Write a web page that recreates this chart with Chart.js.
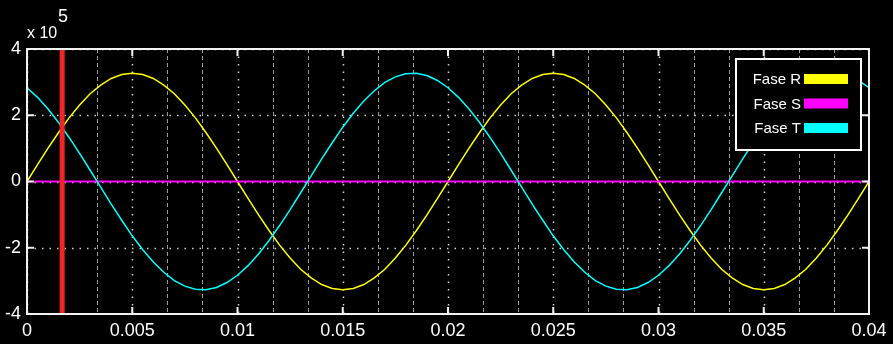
<!DOCTYPE html>
<html>
<head>
<meta charset="utf-8">
<script src="https://cdn.jsdelivr.net/npm/chart.js@4"></script>
<style>
  body { margin: 0; background: #000; }
</style>
</head>
<body>
<canvas id="phaseChart" width="893" height="344"></canvas>
<script>
// sample times (s), every 0.0005 s
const timeSteps = [
    0, 0.0005, 0.001, 0.0015, 0.002, 0.0025, 0.003, 0.0035, 0.004, 0.0045,
    0.005, 0.0055, 0.006, 0.0065, 0.007, 0.0075, 0.008, 0.0085, 0.009, 0.0095,
    0.01, 0.0105, 0.011, 0.0115, 0.012, 0.0125, 0.013, 0.0135, 0.014, 0.0145,
    0.015, 0.0155, 0.016, 0.0165, 0.017, 0.0175, 0.018, 0.0185, 0.019, 0.0195,
    0.02, 0.0205, 0.021, 0.0215, 0.022, 0.0225, 0.023, 0.0235, 0.024, 0.0245,
    0.025, 0.0255, 0.026, 0.0265, 0.027, 0.0275, 0.028, 0.0285, 0.029, 0.0295,
    0.03, 0.0305, 0.031, 0.0315, 0.032, 0.0325, 0.033, 0.0335, 0.034, 0.0345,
    0.035, 0.0355, 0.036, 0.0365, 0.037, 0.0375, 0.038, 0.0385, 0.039, 0.0395,
    0.04
];

// voltages in units of 10^5
const faseR = [
    0, 0.51, 1.01, 1.48, 1.92, 2.31, 2.65, 2.91, 3.11, 3.23,
    3.27, 3.23, 3.11, 2.91, 2.65, 2.31, 1.92, 1.48, 1.01, 0.51,
    0, -0.51, -1.01, -1.48, -1.92, -2.31, -2.65, -2.91, -3.11, -3.23,
    -3.27, -3.23, -3.11, -2.91, -2.65, -2.31, -1.92, -1.48, -1.01, -0.51,
    0, 0.51, 1.01, 1.48, 1.92, 2.31, 2.65, 2.91, 3.11, 3.23,
    3.27, 3.23, 3.11, 2.91, 2.65, 2.31, 1.92, 1.48, 1.01, 0.51,
    0, -0.51, -1.01, -1.48, -1.92, -2.31, -2.65, -2.91, -3.11, -3.23,
    -3.27, -3.23, -3.11, -2.91, -2.65, -2.31, -1.92, -1.48, -1.01, -0.51,
    0
];

const faseT = [
    2.83, 2.54, 2.19, 1.78, 1.33, 0.85, 0.34, -0.17, -0.68, -1.17,
    -1.64, -2.06, -2.43, -2.74, -2.99, -3.16, -3.25, -3.27, -3.20, -3.05,
    -2.83, -2.54, -2.19, -1.78, -1.33, -0.85, -0.34, 0.17, 0.68, 1.17,
    1.64, 2.06, 2.43, 2.74, 2.99, 3.16, 3.25, 3.27, 3.20, 3.05,
    2.83, 2.54, 2.19, 1.78, 1.33, 0.85, 0.34, -0.17, -0.68, -1.17,
    -1.64, -2.06, -2.43, -2.74, -2.99, -3.16, -3.25, -3.27, -3.20, -3.05,
    -2.83, -2.54, -2.19, -1.78, -1.33, -0.85, -0.34, 0.17, 0.68, 1.17,
    1.64, 2.06, 2.43, 2.74, 2.99, 3.16, 3.25, 3.27, 3.20, 3.05,
    2.83
];

const faseSTimes = [0, 0.04];
const faseS = [0, 0];

// red cursor line
const cursorTimes = [0.00167, 0.00167];
const cursorValues = [-4, 4];

const xTicks = [0, 0.005, 0.01, 0.015, 0.02, 0.025, 0.03, 0.035, 0.04];
const xTickLabels = ["0", "0.005", "0.01", "0.015", "0.02", "0.025", "0.03", "0.035", "0.04"];
const yTicks = [-4, -2, 0, 2, 4];
const yTickLabels = ["-4", "-2", "0", "2", "4"];

const toPoints = (xs, ys) => ys.map((v, i) => ({ x: xs[i], y: v }));

const FONT = '"Liberation Sans", Arial, sans-serif';

function hline(ctx, x1, y1, x2, y2) {
    ctx.beginPath();
    ctx.moveTo(x1, y1);
    ctx.lineTo(x2, y2);
    ctx.stroke();
}

const matlabAxes = {
    id: "matlabAxes",
    beforeDatasetsDraw(chart) {
        const { ctx, chartArea: a, scales: { x, y } } = chart;
        ctx.save();
        ctx.beginPath();
        ctx.rect(a.left, a.top, a.right - a.left, a.bottom - a.top);
        ctx.clip();

        // dashed lines every 1/600 s (30 degrees), skipping the major ticks
        ctx.strokeStyle = "#9c9c9c";
        ctx.lineWidth = 1;
        ctx.setLineDash([4, 3]);
        for (let i = 1; i < 24; i++) {
            if (i % 3 === 0) continue;
            const px = Math.round(x.getPixelForValue(i / 600)) + 0.5;
            hline(ctx, px, a.top, px, a.bottom);
        }

        // dotted major grid
        ctx.strokeStyle = "#d4d4d4";
        ctx.lineWidth = 1.5;
        ctx.setLineDash([1.5, 6]);
        xTicks.forEach(v => {
            const px = Math.round(x.getPixelForValue(v)) + 0.5;
            hline(ctx, px, a.top, px, a.bottom);
        });
        yTicks.forEach(v => {
            const py = Math.round(y.getPixelForValue(v)) + 0.5;
            hline(ctx, a.left, py, a.right, py);
        });
        ctx.restore();
    },
    afterDraw(chart) {
        const { ctx, chartArea: a, scales: { x, y } } = chart;
        ctx.save();

        // axes box + inward ticks
        ctx.strokeStyle = "#f2f2f2";
        ctx.lineWidth = 2;
        ctx.setLineDash([]);
        ctx.strokeRect(a.left, a.top, a.right - a.left, a.bottom - a.top);
        const tl = 7;
        xTicks.forEach(v => {
            const px = x.getPixelForValue(v);
            hline(ctx, px, a.bottom, px, a.bottom - tl);
            hline(ctx, px, a.top, px, a.top + tl);
        });
        yTicks.forEach(v => {
            const py = y.getPixelForValue(v);
            hline(ctx, a.left, py, a.left + tl, py);
            hline(ctx, a.right, py, a.right - tl, py);
        });

        // exponent label
        ctx.fillStyle = "#ffffff";
        ctx.textBaseline = "alphabetic";
        ctx.textAlign = "left";
        ctx.font = "16px " + FONT;
        ctx.fillText("x 10", 27, 38);
        ctx.font = "18px " + FONT;
        ctx.fillText("5", 58, 22);

        // legend
        const lx = 736, ly = 59, lw = 125, lh = 91;
        ctx.fillStyle = "#000000";
        ctx.fillRect(lx, ly, lw, lh);
        ctx.strokeStyle = "#ffffff";
        ctx.lineWidth = 2;
        ctx.strokeRect(lx, ly, lw, lh);
        ctx.font = "15px " + FONT;
        ctx.textAlign = "right";
        ctx.textBaseline = "middle";
        const items = chart.data.datasets.filter(d => d.label);
        items.forEach((d, i) => {
            const cy = ly + 20 + i * 24.5;
            ctx.fillStyle = "#ffffff";
            ctx.fillText(d.label, 801, cy + 1);
            ctx.fillStyle = d.borderColor;
            ctx.fillRect(804, cy - 5, 44, 10);
        });
        ctx.restore();
    }
};

new Chart(document.getElementById("phaseChart"), {
    type: "line",
    data: {
        datasets: [
            {
                data: toPoints(cursorTimes, cursorValues),
                borderColor: "#f02626",
                borderWidth: 5,
                pointRadius: 0,
                order: 0
            },
            {
                label: "Fase R",
                data: toPoints(timeSteps, faseR),
                borderColor: "#ffff00",
                borderWidth: 1.5,
                pointRadius: 0,
                order: 3
            },
            {
                label: "Fase S",
                data: toPoints(faseSTimes, faseS),
                borderColor: "#ff00ff",
                borderWidth: 2,
                pointRadius: 0,
                order: 2
            },
            {
                label: "Fase T",
                data: toPoints(timeSteps, faseT),
                borderColor: "#00ffff",
                borderWidth: 1.5,
                pointRadius: 0,
                order: 1
            }
        ]
    },
    options: {
        responsive: false,
        animation: false,
        layout: { padding: { left: 0, top: 49, right: 24, bottom: 0 } },
        plugins: {
            legend: { display: false },
            tooltip: { enabled: false }
        },
        scales: {
            x: {
                type: "linear",
                min: 0,
                max: 0.04,
                afterBuildTicks: s => { s.ticks = xTicks.map(v => ({ value: v })); },
                afterFit: s => { s.height = 30; },
                grid: { display: false, drawTicks: false },
                border: { display: false },
                ticks: {
                    color: "#ffffff",
                    padding: 6,
                    maxRotation: 0,
                    autoSkip: false,
                    font: { family: FONT, size: 18 },
                    callback: (v, i) => xTickLabels[i]
                }
            },
            y: {
                min: -4,
                max: 4,
                afterBuildTicks: s => { s.ticks = yTicks.map(v => ({ value: v })); },
                afterFit: s => { s.width = 27; },
                grid: { display: false, drawTicks: false },
                border: { display: false },
                ticks: {
                    color: "#ffffff",
                    padding: 6,
                    font: { family: FONT, size: 18 },
                    callback: (v, i) => yTickLabels[i]
                }
            }
        }
    },
    plugins: [matlabAxes]
});
</script>
</body>
</html>
